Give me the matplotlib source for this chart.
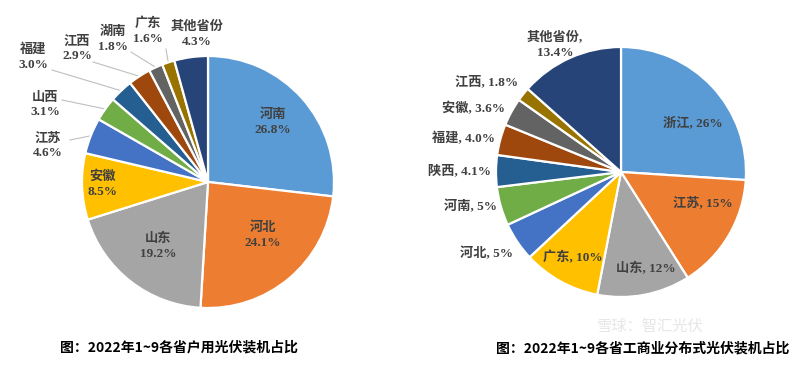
import numpy as np
import matplotlib
matplotlib.use('Agg')
import matplotlib.pyplot as plt

W, H = 800, 370

# left pie: household PV share by province
home_names = ['河南', '河北', '山东', '安徽', '江苏', '山西', '福建', '江西', '湖南', '广东', '其他省份']
home_vals = [26.8, 24.1, 19.2, 8.5, 4.6, 3.1, 3.0, 2.9, 1.8, 1.6, 4.3]

# right pie: C&I distributed PV share by province
ci_names = ['浙江', '江苏', '山东', '广东', '河北', '河南', '陕西', '福建', '安徽', '江西', '其他省份']
ci_vals = [26, 15, 12, 10, 5, 5, 4.1, 4.0, 3.6, 1.8, 13.4]
ci_labels = ['26%', '15%', '12%', '10%', '5%', '5%', '4.1%', '4.0%', '3.6%', '1.8%', '13.4%']

colors = ['#5B9BD5', '#ED7D31', '#A5A5A5', '#FFC000', '#4472C4', '#70AD47',
          '#255E91', '#9E480E', '#636363', '#997300', '#264478']

title_l = '图：2022年1~9各省户用光伏装机占比'
title_r = '图：2022年1~9各省工商业分布式光伏装机占比'

lab_font = ['Liberation Serif', 'Noto Sans CJK SC']
txt_col = '#404040'

fig = plt.figure(figsize=(8, 3.7), dpi=100)
ax = fig.add_axes([0, 0, 1, 1])


def py(y):
    return H - y


def draw_pie(vals, cx, cy, r):
    wedges, _ = ax.pie(vals, colors=colors, startangle=90, counterclock=False,
                       center=(cx, py(cy)), radius=r,
                       wedgeprops=dict(edgecolor='white', linewidth=1.6))
    return wedges


def edge_point(w):
    a = np.deg2rad((w.theta1 + w.theta2) / 2)
    return w.center[0] + w.r * np.cos(a), w.center[1] + w.r * np.sin(a)


# ---- left pie ----
lw = draw_pie(home_vals, 208, 182, 126)
left_pos = [(273, 122), (263, 235), (158, 246), (103, 184), (48, 146), (45, 105),
            (33, 57), (77, 49), (113, 39), (148, 31), (197, 34)]
left_line_end = {4: (70, 140), 5: (62, 100), 6: (52, 70), 7: (93, 62), 8: (131, 52), 9: (166, 49)}
for i, (n, v) in enumerate(zip(home_names, home_vals)):
    x, y = left_pos[i]
    ax.text(x, py(y), f'{n}\n{v:.1f}%', ha='center', va='center', family=lab_font,
            fontsize=9.5, fontweight='bold', color=txt_col, linespacing=1.3)
    if i in left_line_end:
        ex, ey = edge_point(lw[i])
        lx, ly = left_line_end[i]
        ax.plot([ex, lx], [ey, py(ly)], color='#BFBFBF', lw=0.8, zorder=0)

# ---- right pie ----
rw = draw_pie(ci_vals, 621, 172, 125)
right_pos = [(693, 123), (703, 203), (646, 269), (573, 257), (486, 253), (470, 206),
             (459, 171), (463, 138), (474, 108), (487, 82), (555, 45)]
for i, (n, lab) in enumerate(zip(ci_names, ci_labels)):
    x, y = right_pos[i]
    sep = '\n' if n == '其他省份' else ' '
    ax.text(x, py(y), f'{n},{sep}{lab}', ha='center', va='center', family=lab_font,
            fontsize=9.5, fontweight='bold', color=txt_col, linespacing=1.3)

# titles and faint watermark
ax.text(650, py(327), '雪球：智汇光伏', ha='center', va='center', family=lab_font,
        fontsize=11, color='#E6E6E6', zorder=0)
ax.text(179, py(347), title_l, ha='center', va='center', family=['Noto Sans CJK SC'],
        fontsize=10, fontweight='bold', color='black')
ax.text(643, py(348), title_r, ha='center', va='center', family=['Noto Sans CJK SC'],
        fontsize=10, fontweight='bold', color='black')

ax.set_xlim(0, W)
ax.set_ylim(0, H)
ax.set_aspect('auto')
ax.axis('off')
fig.savefig('out.png', dpi=100, facecolor='white')
